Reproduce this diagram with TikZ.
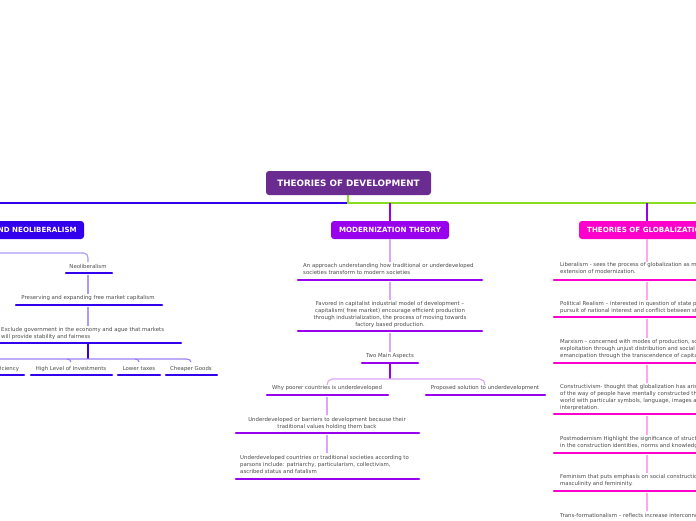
\documentclass[tikz,border=0pt]{standalone}
\usepackage{fontspec}
\setmainfont{DejaVu Sans}
\begin{document}
\begin{tikzpicture}[x=1pt,y=-1pt,
  txt/.style={font=\fontsize{5.4}{6.8}\selectfont,text=black!70,inner sep=0pt},
  ul/.style={line width=2.2pt,line cap=round},
  hdr/.style={rounded corners=3pt,font=\bfseries\fontsize{7.1}{8}\selectfont,text=white,inner sep=0pt},
  conn/.style={line width=1.1pt}]
\definecolor{rootc}{HTML}{6A2C91}
\definecolor{bluec}{HTML}{3300EE}
\definecolor{purc}{HTML}{9900EE}
\definecolor{pinkc}{HTML}{FF00CC}
\definecolor{greenc}{HTML}{88DD22}
\clip (0,0) rectangle (696,520);
\useasboundingbox (0,0) rectangle (696,520);
\fill[white] (0,0) rectangle (696,520);
% root
\draw[conn,draw=bluec] (0,203) -- (348,203);
\draw[conn,draw=greenc] (348,195) -- (348,203) -- (696,203);
\draw[conn,draw=purc] (390,203) -- (390,221);
\draw[conn,draw=purc] (647,203) -- (647,221);
\fill[rootc,rounded corners=3pt] (266,171) rectangle (431,195);
\node[hdr,font=\bfseries\fontsize{8.8}{10}\selectfont] (root) at (348.5,183.5) {THEORIES OF DEVELOPMENT};
% left header
\fill[bluec,rounded corners=3pt] (-40,221) rectangle (84,239);
\node[hdr,anchor=east] (lh) at (77,230) {AND NEOLIBERALISM};
\draw[conn,draw=bluec!40] (0,253) -- (84,253) to[out=0,in=90] (88,258) -- (88,262);
\node[txt] (neo) at (88,266) {Neoliberalism};
\draw[ul,bluec] (66,273) -- (112,273);
\draw[conn,draw=bluec!40] (88,275) -- (88,294);
\node[txt] (pres) at (88,298.5) {Preserving and expanding free market capitalism};
\draw[ul,bluec] (16,305) -- (162,305);
\draw[conn,draw=bluec!40] (88,307) -- (88,326);
\node[txt,anchor=north west,align=left] (excl) at (1,327) {Exclude government in the economy and ague that markets\\will provide stability and fairness};
\draw[ul,bluec] (-5,343) -- (181,343);
\draw[conn,draw=bluec] (88,344) -- (88,359);
\draw[conn,draw=bluec!50] (0,359) -- (186,359) to[out=0,in=90] (191,362);
\draw[conn,draw=bluec!50] (67,359) to[out=0,in=90] (71,362);
\draw[conn,draw=bluec!50] (135,359) to[out=0,in=90] (139,362);
\node[txt] (eff) at (6,369) {Efficiency};
\node[txt] (hli) at (71,369) {High Level of Investments};
\node[txt] (lt) at (139,369) {Lower taxes};
\node[txt] (cg) at (191,369) {Cheaper Goods};
\draw[ul,bluec] (-5,375) -- (24,375);
\draw[ul,bluec] (31,375) -- (112,375);
\draw[ul,bluec] (118,375) -- (160,375);
\draw[ul,bluec] (166,375) -- (217,375);
% middle
\fill[purc,rounded corners=3pt] (331,221) rectangle (449,239);
\node[hdr] (mh) at (390,230) {MODERNIZATION THEORY};
\draw[conn,draw=purc!35] (390,239) -- (390,262);
\node[txt,anchor=north west,align=left] (m1) at (303,263) {An approach understanding how traditional or underdeveloped\\societies transform to modern societies};
\draw[ul,purc] (298,280) -- (482,280);
\draw[conn,draw=purc!35] (390,282) -- (390,300);
\node[txt,anchor=north,align=center] (m2) at (390,301.5) {Favored in capitalist industrial model of development --\\capitalism( free market) encourage efficient production\\through industrialization, the process of moving towards\\factory based production.};
\draw[ul,purc] (298,331) -- (482,331);
\draw[conn,draw=purc!35] (390,333) -- (390,352);
\node[txt] (two) at (390,356) {Two Main Aspects};
\draw[ul,purc] (362,363) -- (418,363);
\draw[conn,draw=purc] (390,364) -- (390,379);
\draw[conn,draw=purc!35] (327,385) to[out=90,in=180] (332,379) -- (480,379) to[out=0,in=90] (485,385);
\node[txt] (why) at (327,388) {Why poorer countries is underdeveloped};
\node[txt] (prop) at (485,388) {Proposed solution to underdevelopment};
\draw[ul,purc] (267,395) -- (388,395);
\draw[ul,purc] (426,395) -- (545,395);
\draw[conn,draw=purc!35] (327,397) -- (327,415);
\node[txt,anchor=north,align=center] (bar) at (327,417) {Underdeveloped or barriers to development because their\\traditional values holding them back};
\draw[ul,purc] (236,433) -- (419,433);
\draw[conn,draw=purc!35] (327,435) -- (327,453);
\node[txt,anchor=north west,align=left] (und) at (240,455.5) {Underdeveloped countries or traditional societies according to\\parsons include: patriarchy, particularism, collectivism,\\ascribed status and fatalism};
\draw[ul,purc] (236,479) -- (419,479);
% right
\fill[pinkc,rounded corners=3pt] (579,221) rectangle (760,239);
\node[hdr,anchor=west] (gh) at (587,230) {THEORIES OF GLOBALIZATION};
\draw[conn,draw=pinkc!35] (647,239) -- (647,262);
\node[txt,anchor=north west,align=left] (g1) at (560,262.5) {Liberalism - sees the process of globalization as merely an\\extension of modernization.};
\draw[ul,pinkc] (554,280) -- (700,280);
\draw[conn,draw=pinkc!35] (647,282) -- (647,300);
\node[txt,anchor=north west,align=left] (g2) at (560,301.5) {Political Realism -- interested in question of state power, the\\pursuit of national interest and conflict between states};
\draw[ul,pinkc] (554,317) -- (700,317);
\draw[conn,draw=pinkc!35] (647,319) -- (647,338);
\node[txt,anchor=north west,align=left] (g3) at (560,339.5) {Marxism -- concerned with modes of production, social\\exploitation through unjust distribution and social\\emancipation through the transcendence of capitalism};
\draw[ul,pinkc] (554,363) -- (700,363);
\draw[conn,draw=pinkc!35] (647,365) -- (647,383);
\node[txt,anchor=north west,align=left] (g4) at (560,384.5) {Constructivism- thought that globalization has arisen out\\of the way of people have mentally constructed the\\world with particular symbols, language, images and\\interpretation.};
\draw[ul,pinkc] (554,414) -- (700,414);
\draw[conn,draw=pinkc!35] (647,416) -- (647,435);
\node[txt,anchor=north west,align=left] (g5) at (560,436.5) {Postmodernism Highlight the significance of structures\\in the construction identities, norms and knowledge};
\draw[ul,pinkc] (554,453) -- (700,453);
\draw[conn,draw=pinkc!35] (647,455) -- (647,473);
\node[txt,anchor=north west,align=left] (g6) at (560,474.5) {Feminism that puts emphasis on social construction of\\masculinity and femininity.};
\draw[ul,pinkc] (554,491) -- (700,491);
\draw[conn,draw=pinkc!35] (647,493) -- (647,511);
\node[txt,anchor=north west,align=left] (g7) at (560,513.5) {Trans-formationalism -- reflects increase interconnectedness};
\end{tikzpicture}
\end{document}
